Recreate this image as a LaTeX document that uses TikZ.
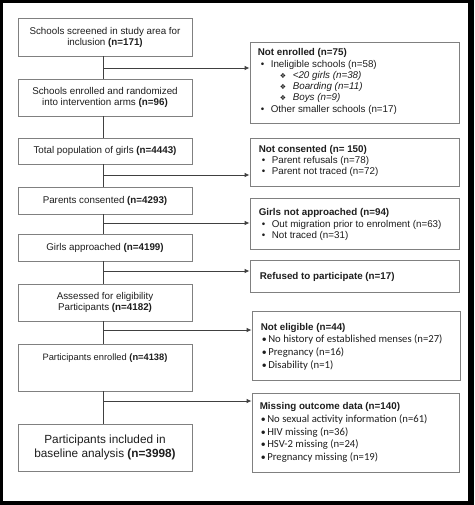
\documentclass[tikz,border=0pt]{standalone}
\usepackage{fontspec}
\setmainfont{Liberation Sans}
\newfontfamily\calfont{Carlito}
\newfontfamily\djvfont{DejaVu Sans}
\usetikzlibrary{arrows.meta,calc}
\definecolor{boxgray}{HTML}{808080}
\definecolor{linegray}{HTML}{404040}
\definecolor{txt}{HTML}{1E1E1E}
\newcommand{\bitem}[1]{\hspace*{3pt}\makebox[10pt][l]{\textbullet}#1}
\newcommand{\ditem}[1]{\hspace*{22pt}\makebox[13pt][l]{{\djvfont\fontsize{7}{7}\selectfont ❖}}\textit{#1}}
\newcommand{\citem}[1]{\hspace*{1pt}\makebox[6.5pt][l]{\calfont\textbullet}{\calfont\fontsize{10.7}{12.7}\selectfont #1}}
\begin{document}
\begin{tikzpicture}[x=1pt,y=-1pt,
  lbox/.style={draw=boxgray, line width=0.8pt, minimum width=174pt, inner sep=0pt, align=center, font=\fontsize{9.8}{11}\selectfont, text=txt},
  rbox/.style={draw=boxgray, line width=0.8pt, inner sep=0pt},
  rtext/.style={anchor=west, align=left, inner sep=0pt, font=\fontsize{9.8}{11.3}\selectfont, text=txt},
  ctext/.style={anchor=west, align=left, inner sep=0pt, font=\fontsize{9.8}{12.7}\selectfont, text=txt},
  conn/.style={draw=linegray, line width=0.9pt},
  arr/.style={conn, -{Latex[length=5pt,width=4.5pt]}}]
\useasboundingbox (0,0) rectangle (474,505);
\fill[black] (0,0) rectangle (474,505);
\fill[white] (3,3) rectangle (468,501);

% left column
\node[lbox, minimum height=38pt] (b1) at (105,37) {Schools screened in study area for\\inclusion \textbf{(n=171)}};
\node[lbox, minimum height=37pt] (b2) at (105,97.5) {Schools enrolled and randomized\\into intervention arms \textbf{(n=96)}};
\node[lbox, minimum height=26pt] (b3) at (105,151) {Total population of girls \textbf{(n=4443)}};
\node[lbox, minimum height=27pt] (b4) at (105,200.5) {Parents consented \textbf{(n=4293)}};
\node[lbox, minimum height=27pt] (b5) at (105,247.5) {Girls approached \textbf{(n=4199)}};
\node[lbox, minimum height=37pt] (b6) at (105,302.5) {Assessed for eligibility\\Participants \textbf{(n=4182)}};
\node[lbox, minimum height=47pt] (b7) at (105,367.5) {};
\node[inner sep=0pt, font=\fontsize{9.3}{11}\selectfont, text=txt] (t7) at (105,358) {Participants enrolled \textbf{(n=4138)}};
\node[lbox, minimum height=47pt, font=\fontsize{11.8}{14.3}\selectfont] (b8) at (105,447.5) {Participants included in\\baseline analysis \textbf{(n=3998)}};

% right column boxes
\node[rbox, minimum width=209pt, minimum height=81pt] (r1) at (354.5,82.5) {};
\node[rbox, minimum width=209pt, minimum height=48pt] (r2) at (354.5,162) {};
\node[rbox, minimum width=209pt, minimum height=51pt] (r3) at (354.5,223.5) {};
\node[rbox, minimum width=209pt, minimum height=32pt] (r4) at (354.5,276) {};
\node[rbox, minimum width=208pt, minimum height=69pt] (r5) at (356,345.5) {};
\node[rbox, minimum width=207pt, minimum height=79pt] (r6) at (355.5,432.5) {};

% right column texts
\node[rtext] (t1) at ([xshift=8pt,yshift=1pt]r1.west) {\textbf{Not enrolled (n=75)}\\
\bitem{Ineligible schools (n=58)}\\
\ditem{<20 girls (n=38)}\\
\ditem{Boarding (n=11)}\\
\ditem{Boys (n=9)}\\
\bitem{Other smaller schools (n=17)}};
\node[rtext] (t2) at ([xshift=9pt,yshift=1pt]r2.west) {\textbf{Not consented (n= 150)}\\
\bitem{Parent refusals (n=78)}\\
\bitem{Parent not traced (n=72)}};
\node[rtext] (t3) at ([xshift=9pt,yshift=-1pt]r3.west) {\textbf{Girls not approached (n=94)}\\
\bitem{Out migration prior to enrolment (n=63)}\\
\bitem{Not traced (n=31)}};
\node[rtext] (t4) at ([xshift=10pt,yshift=-1pt]r4.west) {\textbf{Refused to participate (n=17)}};
\node[ctext] (t5) at ([xshift=9pt,yshift=-1pt]r5.west) {\textbf{Not eligible (n=44)}\\
\citem{No history of established menses (n=27)}\\
\citem{Pregnancy (n=16)}\\
\citem{Disability (n=1)}};
\node[ctext] (t6) at ([xshift=8pt,yshift=0pt]r6.west) {\textbf{Missing outcome data (n=140)}\\
\citem{No sexual activity information (n=61)}\\
\citem{HIV missing (n=36)}\\
\citem{HSV-2 missing (n=24)}\\
\citem{Pregnancy missing (n=19)}};

% vertical trunk
\coordinate (lx) at (103,0);
\draw[conn] (b1.south -| lx) -- (b2.north -| lx);
\draw[conn] (b2.south -| lx) -- (b3.north -| lx);
\draw[conn] (b3.south -| lx) -- (b4.north -| lx);
\draw[conn] (b4.south -| lx) -- (b5.north -| lx);
\draw[conn] (b5.south -| lx) -- (b6.north -| lx);
\draw[conn] (b6.south -| lx) -- (b7.north -| lx);
\draw[conn] (b7.south -| lx) -- (b8.north -| lx);

% side arrows
\coordinate (j1) at (103,68);
\coordinate (j2) at (103,175);
\coordinate (j3) at (103,223);
\coordinate (j4) at (103,271);
\coordinate (j5) at (103,330);
\coordinate (j6) at (103,401);
\draw[arr] (j1) -- (j1 -| r1.west);
\draw[arr] (j2) -- (j2 -| r2.west);
\draw[arr] (j3) -- (j3 -| r3.west);
\draw[arr] (j4) -- (j4 -| r4.west);
\draw[arr] (j5) -- (j5 -| r5.west);
\draw[arr] (j6) -- (j6 -| r6.west);
\end{tikzpicture}
\end{document}
